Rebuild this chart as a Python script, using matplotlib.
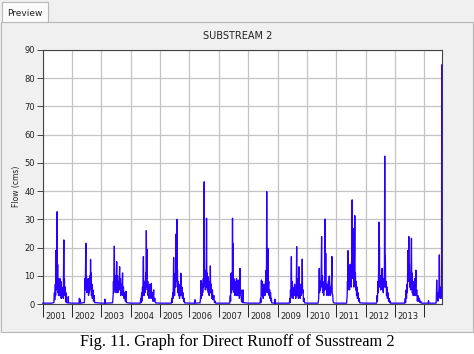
import numpy as np
import matplotlib
matplotlib.use("Agg")
import matplotlib.pyplot as plt
from matplotlib.patches import Rectangle
from matplotlib.transforms import blended_transform_factory

# ---- data: (fraction of year, flow in cms) ----
years = [2001, 2002, 2003, 2004, 2005, 2006, 2007, 2008, 2009, 2010, 2011, 2012, 2013, 2014]
s2001 = [(0.00,0.3),(0.30,0.3),(0.38,0.5),(0.40,4),(0.41,1.5),(0.43,7),(0.44,3),(0.45,19),(0.46,6),(0.47,12),(0.48,5),(0.49,32.7),(0.50,8),(0.51,14),(0.52,4),(0.53,9),(0.54,3),(0.55,8),(0.56,5),(0.57,7),(0.58,3),(0.59,9),(0.60,4),(0.62,8),(0.63,2),(0.65,6),(0.66,3),(0.68,5),(0.70,2),(0.72,22.7),(0.73,4),(0.74,9),(0.75,3),(0.77,6),(0.78,1),(0.79,4),(0.80,0.5),(0.86,0.4),(0.87,2.6),(0.88,0.4)]
s2002 = [(0.00,0.3),(0.24,0.3),(0.25,2),(0.26,0.4),(0.28,1.5),(0.29,0.3),(0.42,0.5),(0.43,3),(0.44,9),(0.45,5),(0.46,12),(0.47,21.5),(0.48,6),(0.49,10),(0.50,4),(0.52,8),(0.53,5),(0.55,9),(0.56,3),(0.58,7),(0.59,4),(0.61,10),(0.62,5),(0.63,15.8),(0.64,6),(0.65,11),(0.66,3),(0.68,7),(0.69,2),(0.71,5),(0.73,1),(0.75,3),(0.77,0.5)]
s2003 = [(0.00,0.3),(0.11,0.3),(0.12,1.7),(0.13,0.3),(0.38,0.4),(0.40,3),(0.41,8),(0.42,4),(0.43,12),(0.44,20.5),(0.45,7),(0.46,10),(0.47,5),(0.49,9),(0.50,4),(0.52,15),(0.53,6),(0.55,10),(0.56,4),(0.58,8),(0.60,5),(0.62,13.2),(0.63,5),(0.65,9),(0.66,3),(0.68,7),(0.70,4),(0.72,11),(0.73,3),(0.75,6),(0.77,2),(0.79,4),(0.81,1),(0.84,4.5),(0.85,0.5)]
s2004 = [(0.00,0.3),(0.32,0.3),(0.34,2),(0.35,0.5),(0.37,4),(0.38,1),(0.40,6),(0.41,3),(0.42,9),(0.43,16.8),(0.44,5),(0.45,8),(0.46,3),(0.48,7),(0.49,4),(0.51,11),(0.52,6),(0.53,26),(0.54,9),(0.55,19.4),(0.56,5),(0.58,8),(0.59,3),(0.61,6),(0.62,2),(0.64,7),(0.65,3),(0.67,5),(0.69,2),(0.70,7.3),(0.71,2),(0.73,4),(0.75,1),(0.78,5),(0.79,1),(0.82,2),(0.84,0.4)]
s2005 = [(0.00,0.3),(0.38,0.3),(0.40,2),(0.41,0.5),(0.43,4),(0.44,2),(0.45,8),(0.46,16.5),(0.47,5),(0.48,9),(0.49,3),(0.50,7),(0.52,11),(0.53,6),(0.54,24.8),(0.55,8),(0.56,14),(0.57,30),(0.58,9),(0.59,12),(0.60,4),(0.62,8),(0.63,3),(0.65,6),(0.66,2),(0.68,7),(0.69,3),(0.705,10.9),(0.72,3),(0.74,6),(0.76,2),(0.78,4),(0.80,1),(0.82,2),(0.83,0.4)]
s2006 = [(0.00,0.3),(0.17,0.3),(0.18,1.5),(0.19,1.5),(0.20,0.3),(0.36,0.4),(0.38,3),(0.39,8.3),(0.40,2),(0.42,5),(0.43,3),(0.44,7),(0.45,4),(0.47,9),(0.48,6),(0.49,15),(0.50,43.3),(0.51,10),(0.52,7),(0.53,12),(0.54,5),(0.56,9),(0.57,6),(0.58,30.4),(0.59,8),(0.60,11),(0.61,5),(0.63,9.7),(0.64,4),(0.66,8),(0.67,3),(0.69,7),(0.70,4),(0.71,13.5),(0.72,4),(0.74,7),(0.76,2),(0.78,5),(0.80,1.5),(0.83,3),(0.85,0.5),(0.88,1),(0.89,0.3)]
s2007 = [(0.00,0.3),(0.37,0.3),(0.39,3),(0.40,1),(0.42,11),(0.43,4),(0.44,8),(0.45,5),(0.46,12),(0.465,30.4),(0.47,9),(0.48,21.5),(0.49,6),(0.51,9),(0.52,4),(0.54,8),(0.55,3),(0.57,7),(0.58,4),(0.60,9),(0.61,3),(0.63,6),(0.64,3),(0.66,8.5),(0.67,3),(0.69,6),(0.70,2),(0.72,12.6),(0.73,3),(0.75,5),(0.77,1),(0.79,2),(0.80,0.5),(0.82,5),(0.83,0.5)]
s2008 = [(0.00,0.3),(0.40,0.3),(0.42,2),(0.43,0.5),(0.45,8.5),(0.46,3),(0.47,8),(0.48,4),(0.50,6),(0.51,2),(0.53,7),(0.54,3),(0.56,6.7),(0.57,3),(0.59,8),(0.60,4),(0.61,12),(0.62,6),(0.63,39.8),(0.64,9),(0.65,7),(0.66,4),(0.67,19.7),(0.68,5),(0.70,8),(0.71,3),(0.73,5),(0.74,2),(0.76,4),(0.78,1),(0.79,2),(0.80,0.4),(0.90,0.3),(0.91,1.7),(0.92,0.3)]
s2009 = [(0.00,0.3),(0.40,0.3),(0.42,2),(0.43,0.5),(0.44,5),(0.45,2),(0.47,16.8),(0.48,4),(0.49,8),(0.50,3),(0.52,6),(0.53,2),(0.55,5),(0.56,3),(0.58,7),(0.59,3),(0.61,5),(0.62,2),(0.64,8),(0.65,20.3),(0.66,4),(0.67,9),(0.68,3),(0.70,6),(0.71,2),(0.73,13.2),(0.74,3),(0.76,5),(0.77,2),(0.79,7),(0.80,3),(0.82,6),(0.83,4),(0.84,15.9),(0.85,4),(0.87,5),(0.88,1),(0.90,2),(0.92,0.4)]
s2010 = [(0.00,0.3),(0.38,0.3),(0.40,2),(0.41,6),(0.42,12.6),(0.43,4),(0.45,8),(0.46,5),(0.48,9),(0.49,15),(0.50,23.9),(0.51,6),(0.53,10),(0.54,4),(0.56,7),(0.57,3),(0.59,8),(0.60,5),(0.61,14),(0.62,30.1),(0.63,8),(0.64,18),(0.65,5),(0.67,7),(0.68,3),(0.70,6),(0.71,4),(0.73,8),(0.74,3),(0.76,9.9),(0.77,4),(0.79,6),(0.80,3),(0.82,5),(0.84,10),(0.85,16.8),(0.86,4),(0.88,3),(0.89,1),(0.91,0.4)]
s2011 = [(0.00,0.3),(0.35,0.3),(0.37,3),(0.38,8),(0.39,5),(0.40,18.9),(0.41,7),(0.42,12),(0.43,6),(0.44,10),(0.45,5),(0.47,14),(0.48,7),(0.50,11),(0.51,6),(0.52,15),(0.53,9),(0.54,36.9),(0.55,12),(0.56,20),(0.57,26.8),(0.58,9),(0.59,13),(0.60,6),(0.62,18),(0.63,31.3),(0.64,8),(0.65,11),(0.66,5),(0.68,8),(0.69,3),(0.71,6),(0.72,2),(0.74,4),(0.76,1),(0.78,2),(0.80,0.4)]
s2012 = [(0.00,0.3),(0.37,0.3),(0.39,3),(0.40,1),(0.42,8),(0.43,4),(0.44,12),(0.45,29),(0.46,9),(0.47,20.3),(0.48,6),(0.50,10),(0.51,5),(0.53,9),(0.54,6),(0.56,12.6),(0.57,5),(0.59,8),(0.60,4),(0.62,9),(0.63,6),(0.64,14),(0.65,52.4),(0.66,10),(0.67,17),(0.68,6),(0.70,8),(0.71,3),(0.73,6),(0.74,2),(0.76,4),(0.78,1),(0.80,2),(0.82,0.5),(0.84,1),(0.85,0.3)]
s2013 = [(0.00,0.3),(0.33,0.3),(0.35,2),(0.36,0.5),(0.38,5),(0.39,2),(0.41,7),(0.42,4),(0.44,19),(0.45,8),(0.46,12),(0.47,23.9),(0.48,9),(0.49,14),(0.50,6),(0.52,10),(0.53,5),(0.55,15),(0.56,23.3),(0.57,7),(0.58,11),(0.59,4),(0.61,8),(0.62,3),(0.64,7),(0.65,4),(0.67,9),(0.68,3),(0.70,6),(0.71,12),(0.72,3),(0.74,5),(0.76,1),(0.78,3),(0.80,1),(0.83,2),(0.85,0.5),(0.88,1),(0.90,0.3)]
s2014 = [(0.00,0.3),(0.13,0.3),(0.14,1.2),(0.15,0.3),(0.40,0.3),(0.41,3),(0.42,8.5),(0.43,2),(0.45,4),(0.46,1),(0.48,3),(0.50,6),(0.51,17.4),(0.52,3),(0.54,2),(0.55,6),(0.57,2),(0.585,3),(0.59,84.7)]
series = [s2001, s2002, s2003, s2004, s2005, s2006, s2007, s2008, s2009, s2010, s2011, s2012, s2013, s2014]
yticks = [0, 10, 20, 30, 40, 50, 60, 70, 80, 90]
year_labels = ["2001", "2002", "2003", "2004", "2005", "2006", "2007", "2008", "2009", "2010", "2011", "2012", "2013"]

t = np.array([yr + f for yr, s in zip(years, series) for f, _ in s])
q = np.array([v for s in series for _, v in s])

W, H = 474, 354
fig = plt.figure(figsize=(W / 100, H / 100), dpi=100)
fig.patch.set_facecolor("white")

def fx(x):
    return x / W

def fy(y):
    return 1 - y / H

# window panel and tab (behind the axes)
fig.patches.append(Rectangle((fx(0), fy(333)), fx(474), 333 / H, transform=fig.transFigure,
                             facecolor="#f0f0f0", edgecolor="none", zorder=-3))
fig.patches.append(Rectangle((fx(1), fy(332)), fx(472), (332 - 22) / H, transform=fig.transFigure,
                             facecolor="#f0f0f0", edgecolor="#b8b8b8", linewidth=0.8, zorder=-2))
fig.patches.append(Rectangle((fx(2), fy(22)), fx(46), (22 - 2) / H, transform=fig.transFigure,
                             facecolor="#fbfbfb", edgecolor="#b8b8b8", linewidth=0.8, zorder=-1))
fig.text(fx(25), fy(13.5), "Preview", fontsize=6.5, ha="center", va="center", color="#222222")

ax = fig.add_axes([fx(42.7), fy(304), (441.7 - 42.7) / W, (304 - 50) / H])
ax.set_zorder(2)
ax.set_facecolor("white")
ax.plot(t, q, color="#2a00ff", linewidth=0.95, zorder=3, clip_on=False)

ax.set_xlim(2001.0, 2014.59)
ax.set_ylim(0, 90)
ax.set_yticks(yticks)
ax.set_yticklabels([str(v) for v in yticks], fontsize=6, color="#222222")
ax.tick_params(axis="y", length=4, width=0.7, color="#444444", pad=1.5)
ax.set_xticks(years)
ax.set_xticklabels([])
ax.tick_params(axis="x", length=9, width=0.7, color="#222222")
ax.grid(True, color="#c4c4c4", linewidth=0.9, zorder=0)
ax.set_axisbelow(True)
for s in ax.spines.values():
    s.set_color("#444444")
    s.set_linewidth(0.8)

tr = blended_transform_factory(ax.transData, ax.transAxes)
for yr, lab in zip(years, year_labels):
    ax.text(yr + 0.08, -0.049, lab, transform=tr, fontsize=6, ha="left", va="center",
            color="#222222", clip_on=False)

fig.text(fx(238), fy(36), "SUBSTREAM 2", fontsize=7, ha="center", va="center", color="#222222")
fig.text(fx(17), fy(186), "Flow (cms)", fontsize=5.5, rotation=90, ha="center", va="center", color="#222222")

fig.text(fx(237), fy(342.5), "Fig. 11. Graph for Direct Runoff of Susstream 2", fontsize=11.8,
         family="Liberation Serif", ha="center", va="center", color="black")

fig.savefig("out.png", dpi=100, facecolor="white")
